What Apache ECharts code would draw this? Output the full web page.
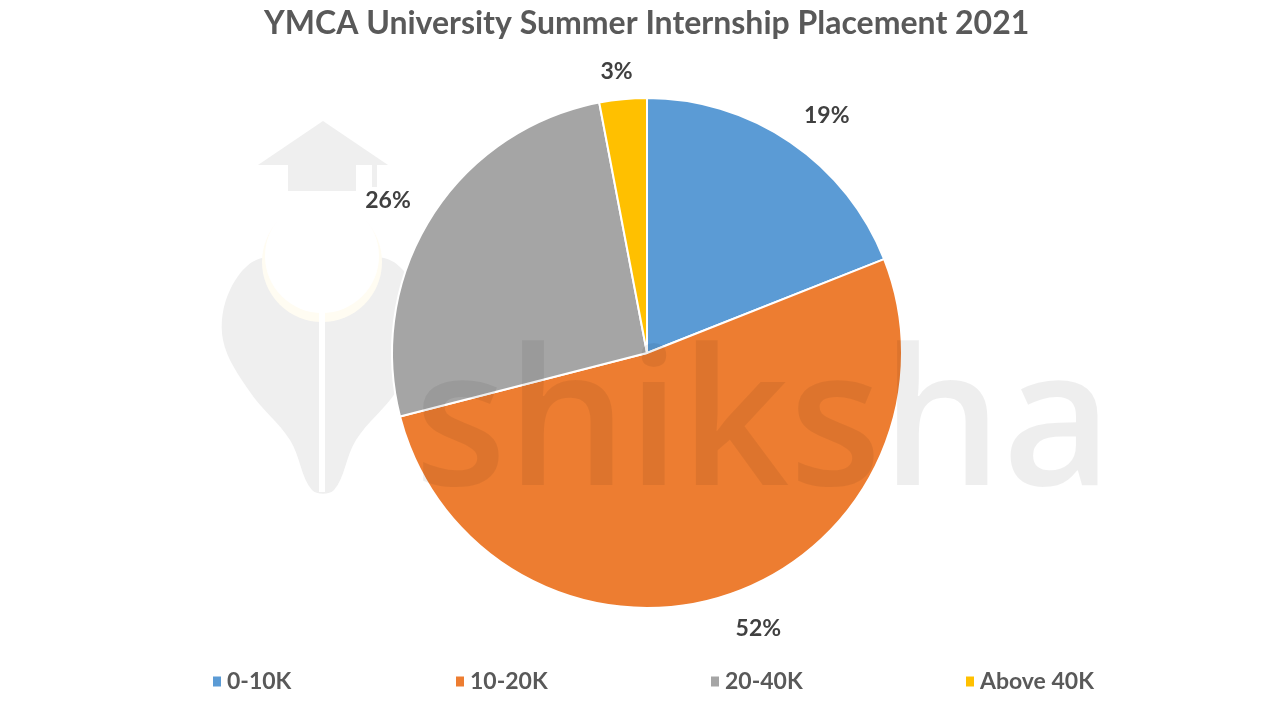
<!DOCTYPE html>
<html>
<head>
<meta charset="utf-8">
<script src="https://cdn.jsdelivr.net/npm/echarts@6/dist/echarts.min.js"></script>
<style>
  html, body { margin: 0; padding: 0; background: #fff; }
  #main { width: 1280px; height: 720px; }
</style>
</head>
<body>
<div id="main"></div>
<script>
var categories = ['0-10K', '10-20K', '20-40K', 'Above 40K'];
var shares = [19, 52, 26, 3];
var colors = ['#5B9BD5', '#ED7D31', '#A5A5A5', '#FFC000'];

var myChart = echarts.init(document.getElementById('main'));

var pieData = categories.map(function (name, i) {
    return { name: name, value: shares[i], itemStyle: { color: colors[i] } };
});

// nudges so the outside labels sit where the original ones are
var labelNudge = [[10, 12], [18, -12], [-4, 9], [-2, 19]];
// transparent ring only used to place the percentage labels outside the pie
var labelData = categories.map(function (name, i) {
    return { name: name, value: shares[i], label: { offset: labelNudge[i] } };
});

// one legend per item so they are spread across the bottom like the original
var legendLeft = [206, 449, 704, 959];
var legends = categories.map(function (name, i) {
    return {
        data: [name],
        left: legendLeft[i],
        top: 665,
        itemWidth: 10,
        itemHeight: 12,
        itemGap: 10,
        icon: 'rect',
        selectedMode: false,
        textStyle: {
            fontFamily: 'Lato',
            fontWeight: 'bold',
            fontSize: 23,
            color: '#595959'
        }
    };
});

var wm = '#efefef';

myChart.setOption({
    backgroundColor: '#ffffff',
    title: {
        text: 'YMCA University Summer Internship Placement 2021',
        left: 259,
        top: 3,
        textStyle: {
            fontFamily: 'Lato',
            fontWeight: 'bold',
            fontSize: 32,
            color: '#595959'
        }
    },
    legend: legends,
    graphic: [
        // watermark logo (behind the pie)
        { type: 'polygon', z: -10, silent: true, shape: { points: [[258, 165], [323, 121], [388, 165]] }, style: { fill: wm } },
        { type: 'rect', z: -10, silent: true, shape: { x: 288, y: 165, width: 68, height: 26 }, style: { fill: wm } },
        { type: 'rect', z: -10, silent: true, shape: { x: 372, y: 165, width: 5, height: 22 }, style: { fill: wm } },
        {
            type: 'polygon', z: -10, silent: true,
            shape: {
                smooth: 0.35,
                points: [[262, 258], [230, 290], [223, 340], [250, 392], [290, 440], [312, 490],
                         [334, 490], [356, 440], [396, 392], [423, 340], [416, 290], [384, 258]]
            },
            style: { fill: wm }
        },
        { type: 'circle', z: -9, silent: true, shape: { cx: 322, cy: 262, r: 60 }, style: { fill: '#fffcf2' } },
        { type: 'circle', z: -9, silent: true, shape: { cx: 322, cy: 256, r: 57 }, style: { fill: '#ffffff' } },
        { type: 'rect', z: -9, silent: true, shape: { x: 319, y: 310, width: 6, height: 182 }, style: { fill: '#ffffff' } },
        // watermark word (over the pie, semi-transparent)
        {
            type: 'text',
            z: 100,
            silent: true,
            left: 414,
            top: 336,
            style: {
                text: 'shiksha',
                fontFamily: 'Open Sans',
                fontSize: 190,
                fontWeight: 600,
                fill: 'rgba(0,0,0,0.065)'
            }
        }
    ],
    series: [
        {
            name: 'Placement',
            type: 'pie',
            center: [647, 353],
            radius: 255,
            startAngle: 90,
            clockwise: true,
            silent: true,
            label: { show: false },
            labelLine: { show: false },
            itemStyle: { borderColor: '#ffffff', borderWidth: 2 },
            data: pieData
        },
        {
            name: 'labels',
            type: 'pie',
            center: [647, 353],
            radius: [262, 336],
            startAngle: 90,
            clockwise: true,
            silent: true,
            itemStyle: { color: 'rgba(0,0,0,0)' },
            labelLine: { show: false },
            label: {
                show: true,
                position: 'inside',
                formatter: '{c}%',
                fontFamily: 'Lato',
                fontWeight: 'bold',
                fontSize: 23,
                color: '#404040'
            },
            data: labelData
        }
    ]
});
</script>
</body>
</html>
